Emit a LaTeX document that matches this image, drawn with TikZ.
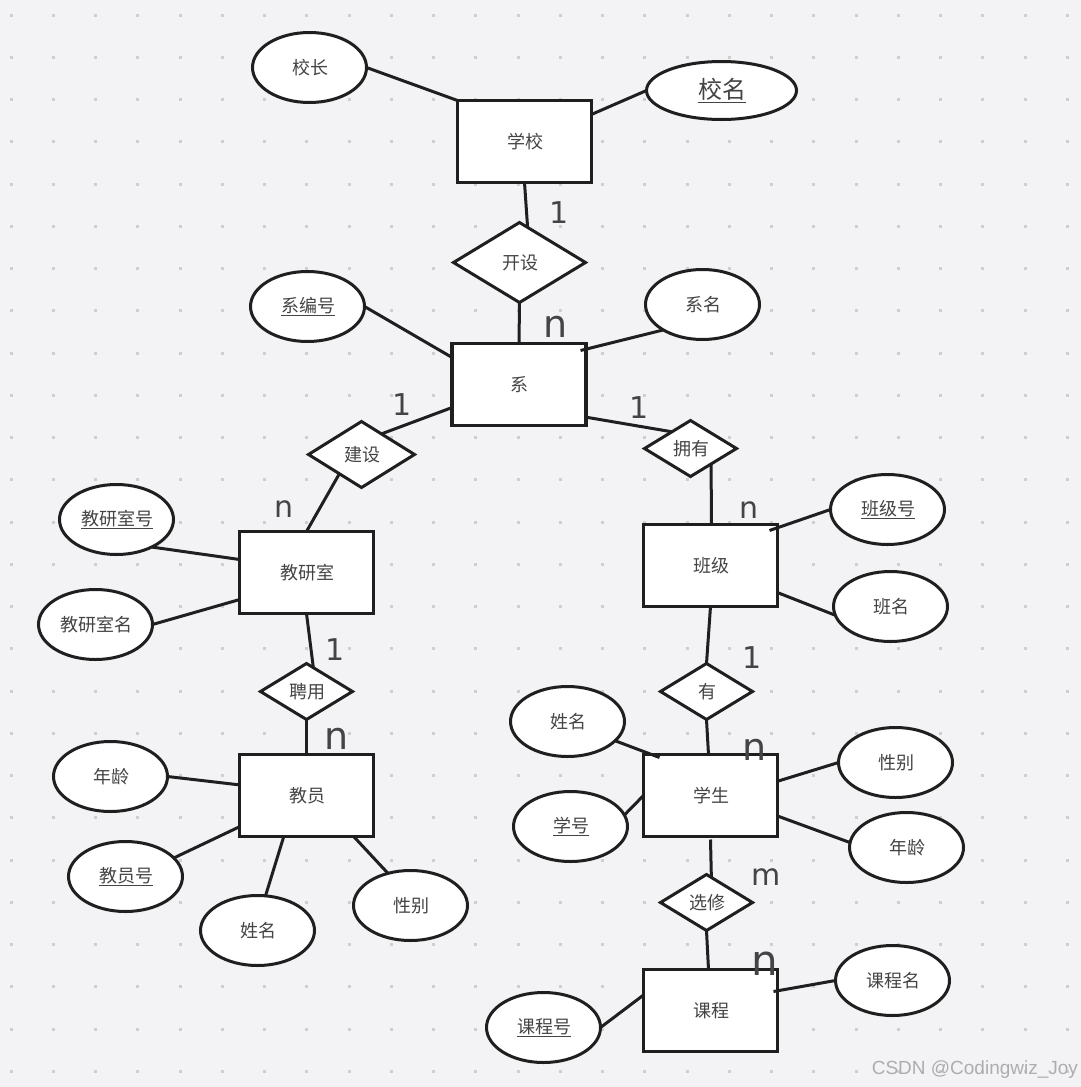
\documentclass[tikz,border=0pt]{standalone}
\usepackage{fontspec}
\setmainfont{Noto Sans CJK SC}
\newfontfamily\latinfont{Liberation Sans}
\newfontfamily\cardfont{DejaVu Sans}
\usetikzlibrary{shapes.geometric,calc}
\definecolor{bgc}{HTML}{F3F3F6}
\definecolor{dotc}{HTML}{CFCFCF}
\definecolor{ink}{HTML}{1F1F1F}
\definecolor{txt}{HTML}{444444}
\tikzset{
  every node/.style={font=\fontsize{18}{20}\selectfont,text=txt,inner sep=0pt,outer sep=0pt},
  shp/.style={draw=ink,line width=3.2pt,fill=white,
    execute at begin node={\lower2.2pt\hbox\bgroup\kern1pt},execute at end node={\egroup}},
  ent/.style={shp,rectangle,minimum width=134pt,minimum height=82pt},
  attr/.style={shp,ellipse,line width=3pt,minimum width=114pt,minimum height=70pt},
  rela/.style={shp,diamond,line width=3pt,minimum width=92pt,minimum height=56pt},
  lnk/.style={draw=ink,line width=3pt},
  card/.style={font=\cardfont\fontsize{30}{32}\selectfont,text=txt},
  cardl/.style={font=\cardfont\fontsize{38}{40}\selectfont,text=txt},
}
\begin{document}
\begin{tikzpicture}[x=1pt,y=-1pt]
\useasboundingbox (0,0) rectangle (1081,1087);
\fill[bgc] (0,0) rectangle (1081,1087);
\foreach \i in {0,...,25}{\foreach \j in {0,...,25}{
  \fill[dotc] ({11+42.25*\i-1.5},{15+42.25*\j-1.5}) rectangle ++(3,3);
}}
\begin{scope}[shift={(-0.5,-0.5)}]
\node[ent] (school) at (525,142) {学校};
\node[attr] (head) at (310,68) {校长};
\node[attr,minimum width=150pt,minimum height=58pt,font=\fontsize{24}{26}\selectfont] (sname) at (722,91) {\underline{校名}};
\node[rela,minimum width=132pt,minimum height=80pt] (kaishe) at (520,263) {开设};
\node[ent] (dept) at (519.5,385) {系};
\node[attr] (deptno) at (308,307) {\underline{系编号}};
\node[attr] (deptname) at (703,305) {系名};
\node[rela,minimum width=106pt,minimum height=66pt] (jianshe) at (362,455) {建设};
\node[rela] (yongyou) at (691,449) {拥有};
\node[ent] (office) at (307,573) {教研室};
\node[ent] (cls) at (711,566) {班级};
\node[attr] (officeno) at (117,520) {\underline{教研室号}};
\node[attr] (officename) at (96,625) {教研室名};
\node[attr] (clsno) at (888,510) {\underline{班级号}};
\node[attr] (clsname) at (891,607) {班名};
\node[rela] (pinyong) at (307,692) {聘用};
\node[rela] (you) at (707,692) {有};
\node[ent] (teacher) at (307,796) {教员};
\node[ent] (student) at (711,796) {学生};
\node[attr] (tage) at (111,777) {年龄};
\node[attr] (tno) at (126,877) {\underline{教员号}};
\node[attr] (tname) at (258,931) {姓名};
\node[attr] (tsex) at (411,906) {性别};
\node[attr] (sname2) at (568,722) {姓名};
\node[attr] (sno) at (571,827) {\underline{学号}};
\node[attr] (ssex) at (896,763) {性别};
\node[attr] (sage) at (907,848) {年龄};
\node[rela] (xuanxiu) at (707,903) {选修};
\node[ent] (course) at (711,1011) {课程};
\node[attr] (cname) at (893,981) {课程名};
\node[attr] (cno) at (544,1028) {\underline{课程号}};
\end{scope}
% connectors
\draw[lnk] (head.east) -- (school.north west);
\draw[lnk] (sname.west) -- (school.22);
\draw[lnk] (school.south) -- (kaishe.77);
\draw[lnk] (kaishe.south) -- (dept.north);
\draw[lnk] (deptno.east) -- (dept.158);
\draw[lnk] (deptname.213) -- ($(dept.center)+(61.5,-34)$);
\draw[lnk] (dept.199) -- (jianshe.46);
\draw[lnk] (jianshe.221) -- (office.north);
\draw[lnk] (dept.-26) -- (yongyou.138);
\draw[lnk] (yongyou.-37) -- ($(cls.north)+(1,0)$);
\draw[lnk] (officeno.-38) -- (office.169);
\draw[lnk] (officename.east) -- (office.202);
\draw[lnk] (clsno.west) -- ($(cls.center)+(59,-35)$);
\draw[lnk] (clsname.189) -- (cls.-22);
\draw[lnk] (office.south) -- (pinyong.74);
\draw[lnk] (pinyong.south) -- (teacher.north);
\draw[lnk] (cls.south) -- (you.north);
\draw[lnk] (you.south) -- ($(student.north)+(-2,0)$);
\draw[lnk] (tage.east) -- (teacher.171.5);
\draw[lnk] (tno.21) -- (teacher.205.5);
\draw[lnk] (tname.77) -- (teacher.241.8);
\draw[lnk] (tsex.125) -- (teacher.-41);
\draw[lnk] (sname2.-22) -- ($(student.center)+(-51,-38)$);
\draw[lnk] (sno.12.5) -- (student.west);
\draw[lnk] (ssex.west) -- (student.12.6);
\draw[lnk] (sage.175) -- (student.-17);
\draw[lnk] ($(student.south)+(0,3)$) -- (xuanxiu.79);
\draw[lnk] (xuanxiu.south) -- ($(course.north)+(-2,0)$);
\draw[lnk] (cname.west) -- ($(course.center)+(63,-19)$);
\draw[lnk] (cno.east) -- (course.167);
% cardinalities
\node[card] (c1) at (559,213) {1};
\node[cardl] (c2) at (556,327) {n};
\node[card] (c3) at (402,405) {1};
\node[card] (c4) at (639,408) {1};
\node[card] (c5) at (284,509) {n};
\node[card] (c6) at (749,510) {n};
\node[card] (c7) at (335,650) {1};
\node[card] (c8) at (752,658) {1};
\node[cardl] (c9) at (337,739) {n};
\node[cardl] (c10) at (755,750) {n};
\node[card] (c11) at (766,877) {m};
\node[cardl,font=\cardfont\fontsize{42}{44}\selectfont] (c12) at (765,964) {n};
\node[anchor=east,font=\latinfont\fontsize{19}{21}\selectfont,text=black!32] (wm) at (1078,1070) {CSDN @Codingwiz\_Joy};
\end{tikzpicture}
\end{document}
